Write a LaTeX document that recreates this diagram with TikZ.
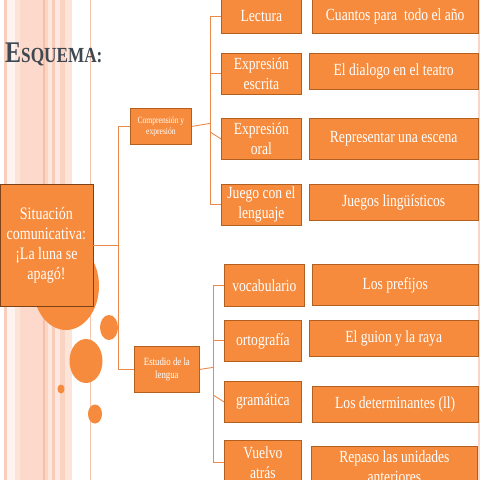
\documentclass[tikz,border=0pt]{standalone}
\usepackage{fontspec}
\setmainfont{Liberation Serif}[FakeStretch=0.8]
\usepackage{tikz}
\usetikzlibrary{positioning, calc}

\definecolor{naranja}{HTML}{F68B3D}
\definecolor{borde}{HTML}{B2601F}
\definecolor{trazo}{HTML}{E98A4C}
\definecolor{titulo}{HTML}{3F4852}
\definecolor{rosaA}{HTML}{F8CDBB}
\definecolor{rosaB}{HTML}{FEF3EE}
\definecolor{rosaC}{HTML}{FDE4D9}
\definecolor{rosaD}{HTML}{FDD9CB}
\definecolor{rosaE}{HTML}{F6BFA6}
\definecolor{rosaF}{HTML}{FBD5C6}
\definecolor{rosaG}{HTML}{FDE8E0}
\definecolor{rosaH}{HTML}{F9CCB9}
\definecolor{rosaI}{HTML}{FAD3C2}
\definecolor{rosaJ}{HTML}{F5C4B0}

\begin{document}
\begin{tikzpicture}[x=1pt, y=-1pt,
        caja/.style={draw=borde, line width=0.8pt, fill=naranja, text=white, align=center, inner sep=2pt, anchor=north west, font=\fontsize{17}{20}\selectfont},
        rama/.style={draw=trazo, line width=0.9pt}]
        \useasboundingbox (0,0) rectangle (480,480);

        % Background stripes
        \fill[white] (0,0) rectangle (480,480);
        \fill[rosaA] (4,0) rectangle (7,480);
        \fill[rosaB] (7,0) rectangle (15,480);
        \fill[rosaC] (15,0) rectangle (20,480);
        \fill[rosaD] (20,0) rectangle (43,480);
        \fill[rosaE] (43,0) rectangle (45,480);
        \fill[rosaF] (45,0) rectangle (48,480);
        \fill[rosaG] (48,0) rectangle (52,480);
        \fill[rosaH] (52,0) rectangle (55,480);
        \fill[rosaG] (55,0) rectangle (60,480);
        \fill[rosaI] (60,0) rectangle (65,480);
        \fill[rosaC] (65,0) rectangle (72,480);
        \fill[rosaJ] (89.5,0) rectangle (91,480);
        \fill[rosaF] (477.5,0) rectangle (480,480);

        % Bubbles
        \fill[naranja] (66,286) ellipse [x radius=33pt, y radius=44pt];
        \fill[naranja] (109,327.5) ellipse [x radius=9pt, y radius=12.5pt];
        \fill[naranja] (86,361) ellipse [x radius=16.5pt, y radius=22pt];
        \fill[naranja] (61,389) ellipse [x radius=3.5pt, y radius=4.5pt];
        \fill[naranja] (95,414) ellipse [x radius=7pt, y radius=9.5pt];

        % Title
        \node[anchor=base west, text=titulo, font=\bfseries, inner sep=0pt] (titulo) at (5,62) {\fontsize{30}{30}\selectfont E\fontsize{21.5}{21.5}\selectfont SQUEMA:};

        % Nodes
        \node[caja, draw=borde!70!black, minimum width=93pt, minimum height=122pt, font=\fontsize{17.5}{20}\selectfont] (situacion) at (-0.5,184) {Situación\\comunicativa:\\¡La luna se\\apagó!};
        \node[caja, minimum width=61pt, minimum height=36pt, font=\fontsize{9.5}{11}\selectfont] (comprension) at (130,108) {Comprensión y\\expresión};
        \node[caja, minimum width=65pt, minimum height=46pt, font=\fontsize{11}{13}\selectfont] (estudio) at (134,346) {Estudio de la\\lengua};

        \node[caja, minimum width=80pt, minimum height=34pt] (lectura) at (221,-1) {Lectura};
        \node[caja, minimum width=166pt, minimum height=34pt, right=10pt of lectura.north east, anchor=north west] (cuentos) {Cuantos para~ todo el año};
        \node[caja, minimum width=80pt, minimum height=41pt] (escrita) at (221,53) {Expresión\\escrita};
        \node[caja, minimum width=169pt, minimum height=36pt, right=7pt of escrita.north east, anchor=north west] (dialogo) {El dialogo en el teatro};
        \node[caja, minimum width=80pt, minimum height=41pt] (oral) at (221,118) {Expresión\\oral};
        \node[caja, minimum width=169pt, minimum height=41pt, right=7pt of oral.north east, anchor=north west] (escena) {Representar una escena};
        \node[caja, minimum width=80pt, minimum height=41pt] (juego) at (221,184) {Juego con el\\lenguaje};
        \node[caja, minimum width=169pt, minimum height=36pt, right=7pt of juego.north east, anchor=north west] (juegos) {Juegos lingüísticos};

        \node[caja, minimum width=80pt, minimum height=42pt] (vocabulario) at (224,264) {vocabulario};
        \node[caja, minimum width=166pt, minimum height=41pt, right=7pt of vocabulario.north east, anchor=north west] (prefijos) {Los prefijos};
        \node[caja, minimum width=77pt, minimum height=41pt] (ortografia) at (224,320) {ortografía};
        \node[caja, minimum width=169pt, minimum height=36pt, right=7pt of ortografia.north east, anchor=north west] (guion) {El guion y la raya};
        \node[caja, minimum width=77pt, minimum height=41pt] (gramatica) at (224,381) {gramática};
        \node[caja, minimum width=166pt, minimum height=36pt, right=10pt of gramatica.south east, anchor=south west] (determinantes) {Los determinantes (ll)};
        \node[caja, minimum width=77pt, minimum height=44pt] (vuelvo) at (224,440) {Vuelvo\\atrás};
        \node[caja, minimum width=166pt, minimum height=40pt] (repaso) at (311,446) {Repaso las unidades\\anteriores};

        % Lines
        \coordinate (tronco) at (118,0);
        \coordinate (ramaA) at (210,0);
        \coordinate (ramaB) at (213,0);

        \draw[rama] (situacion.east) -- (situacion.east -| tronco);
        \draw[rama] (comprension.west) -| (tronco |- estudio.west) -- (estudio.west);

        \draw[rama] (comprension.east) -- ($(comprension.east -| ramaA)+(0,-3)$);
        \draw[rama] (lectura.west) -| (ramaA |- juego.west) -- (juego.west);
        \draw[rama] (escrita.west) -- (escrita.west -| ramaA);
        \draw[rama] ($(oral.west -| ramaA)+(0,-7)$) -- (oral.west);

        \draw[rama] (estudio.east) -- ($(estudio.east -| ramaB)+(0,-2)$);
        \draw[rama] (vocabulario.west) -| (ramaB |- vuelvo.west) -- (vuelvo.west);
        \draw[rama] (ortografia.west) -- (ortografia.west -| ramaB);
        \draw[rama] ($(gramatica.west -| ramaB)+(0,-7)$) -- (gramatica.west);
\end{tikzpicture}
\end{document}
